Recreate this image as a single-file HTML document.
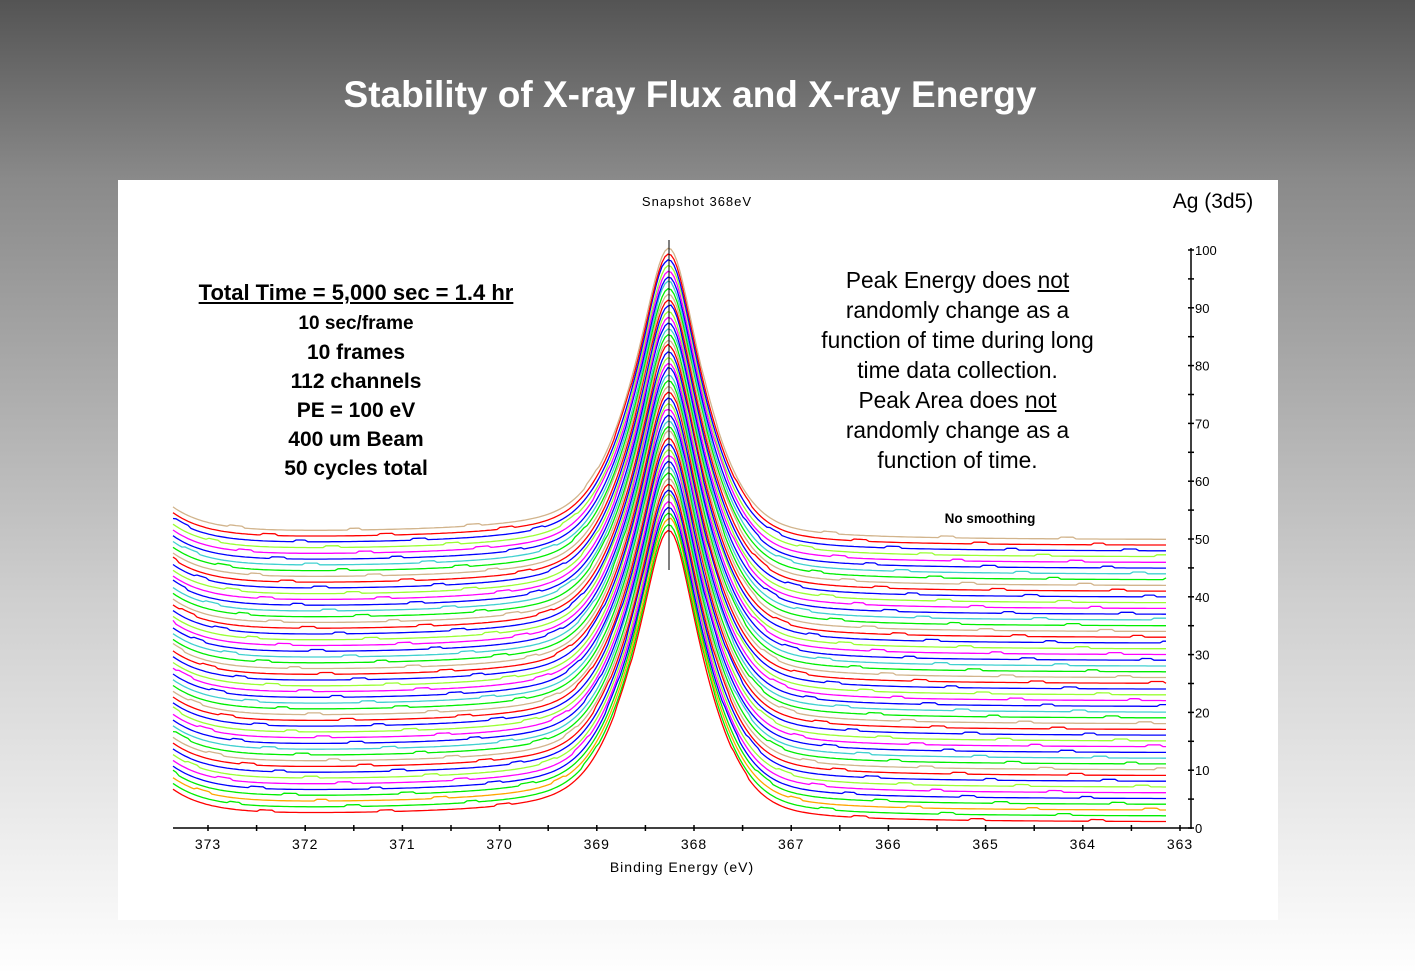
<!DOCTYPE html>
<html><head><meta charset="utf-8"><style>
html,body{margin:0;padding:0}
body{width:1415px;height:971px;overflow:hidden;background:linear-gradient(#545454 0px,#8a8a8a 180px,#cfcfcf 600px,#fefefe 971px);position:relative;font-family:"Liberation Sans",sans-serif}
.title{position:absolute;top:74px;left:0;width:1380px;text-align:center;color:#fff;font-weight:bold;font-size:37px}
.panel{position:absolute;left:118px;top:180px;width:1160px;height:740px;background:#fff}
svg{position:absolute;left:0;top:0}
.lt{position:absolute;left:186px;top:278px;width:340px;text-align:center;font-weight:bold;font-size:21px;line-height:29px;color:#000}
.rt{position:absolute;left:780px;top:265px;width:355px;text-align:center;font-size:22.7px;line-height:30px;color:#000}
</style></head><body>
<div class="title">Stability of X-ray Flux and X-ray Energy</div>
<div class="panel"></div>
<svg id="s" width="1415" height="971" xmlns="http://www.w3.org/2000/svg"></svg>
<div class="lt"><u style="font-size:22px">Total Time = 5,000 sec = 1.4 hr</u><br><span style="font-size:19px">10 sec/frame</span><br>10 frames<br>112 channels<br>PE = 100 eV<br>400 um Beam<br>50 cycles total</div>
<div class="rt">Peak Energy does <u>not</u><br>randomly change as a<br>function of time during long<br>time data collection.<br>Peak Area does <u>not</u><br>randomly change as a<br>function of time.</div>
<script>
var s=document.getElementById('s'),h='';
var Y0=828,K=5.76,PX=669;
function f(x,i){var d=x-PX;
var G=Math.exp(-d*d/(2*42*42));
var L=1/(1+Math.pow(d/32,2));
var T=d<0?0.07*Math.exp(d/90)*(1-Math.exp(-d*d/3000)):0;
var st=1+1.3/(1+Math.exp(d/20));
var ex=4.3*Math.exp(-(x-173)/35);
var n=(Math.sin(x*0.053+i*1.7)>0.93?0.3:0);
return st+ex+50*(0.6*L+0.4*G+T)+n+i;}
var first=['#ff0000','#00ee00','#ffa500','#00ee00','#0000ff','#ff00ff','#99ff33','#0000ff'];
var cyc=['#ff0000','#d2b48c','#00ee00','#40d0d0','#0000ff','#ff00ff','#99ff33','#0000ff'];
for(var i=0;i<50;i++){var c=i<8?first[i]:cyc[(i-8)%8];var p=[];
for(var x=173;x<=1167;x+=3){p.push(x+','+(Y0-K*f(x,i)).toFixed(1));}
h+='<polyline fill="none" stroke="'+c+'" stroke-width="1.3" points="'+p.join(' ')+'"/>';}
h+='<line x1="669" y1="240" x2="669" y2="570" stroke="#000" stroke-width="1"/>';
h+='<line x1="173" y1="828" x2="1192" y2="828" stroke="#000" stroke-width="1.5"/>';
h+='<line x1="1191" y1="248" x2="1191" y2="829" stroke="#000" stroke-width="1.5"/>';
var lab=['373','372','371','370','369','368','367','366','365','364','363'];
for(var k=0;k<=20;k++){var x=208+k*48.6;h+='<line x1="'+x+'" y1="825" x2="'+x+'" y2="831" stroke="#000" stroke-width="1.5"/>';
if(k%2==0)h+='<text x="'+x+'" y="849" font-size="14" text-anchor="middle" letter-spacing="1">'+lab[k/2]+'</text>';}
for(var k=0;k<=20;k++){var y=828-k*28.9;h+='<line x1="1188" y1="'+y+'" x2="1194" y2="'+y+'" stroke="#000" stroke-width="1.5"/>';
if(k%2==0)h+='<text x="1195" y="'+(y+5)+'" font-size="13">'+(k*5)+'</text>';}
h+='<text x="682" y="872" font-size="14" text-anchor="middle" letter-spacing="1">Binding Energy (eV)</text>';
h+='<text x="697" y="206" font-size="13" text-anchor="middle" letter-spacing="1">Snapshot 368eV</text>';
h+='<text x="1213" y="208" font-size="21" text-anchor="middle">Ag (3d5)</text>';
h+='<text x="990" y="523" font-size="13.5" font-weight="bold" text-anchor="middle">No smoothing</text>';
s.innerHTML=h;
</script>
</body></html>
